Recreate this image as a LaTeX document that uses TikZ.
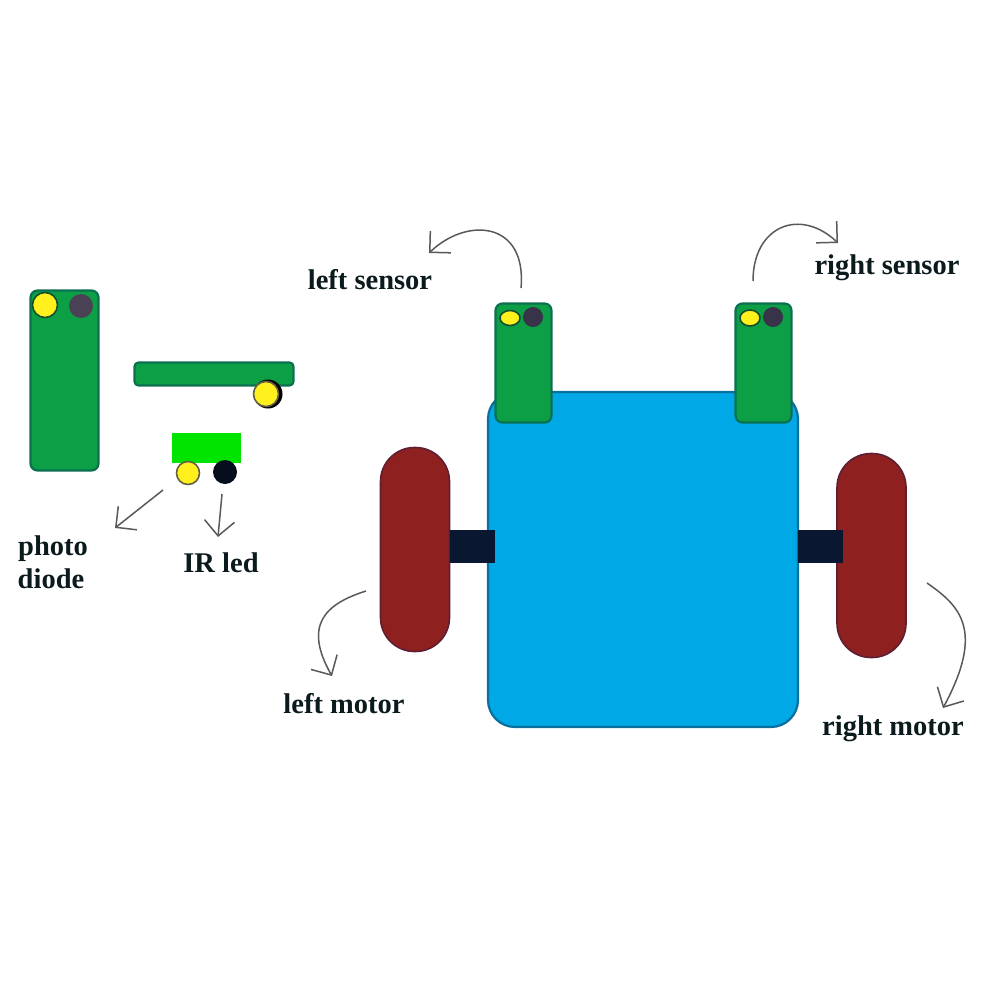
\documentclass[tikz,border=0pt]{standalone}
\usepackage{fontspec}
\setmainfont{Liberation Serif}
\usetikzlibrary{arrows.meta,shapes.geometric}

\definecolor{pcbgreen}{HTML}{0C9F45}
\definecolor{pcbedge}{HTML}{0A7050}
\definecolor{brightgreen}{HTML}{00E400}
\definecolor{chassisblue}{HTML}{00A8E6}
\definecolor{chassisedge}{HTML}{0B6F9E}
\definecolor{wheelred}{HTML}{8E2020}
\definecolor{wheeledge}{HTML}{5E1F33}
\definecolor{axlenavy}{HTML}{0A1730}
\definecolor{ledgray}{HTML}{4A4155}
\definecolor{diodeyellow}{HTML}{FFF01E}
\definecolor{diodeedge}{HTML}{14502A}
\definecolor{labelink}{HTML}{0B1A1C}

\tikzset{
  pcb/.style={draw=pcbedge,line width=2.2pt,fill=pcbgreen,rounded corners=7pt,inner sep=0pt},
  wheel/.style={draw=wheeledge,line width=1.6pt,fill=wheelred,rounded corners=34pt,inner sep=0pt,minimum width=69pt,minimum height=204pt},
  axle/.style={fill=axlenavy,inner sep=0pt,minimum width=45pt,minimum height=33pt},
  diode/.style={circle,draw=diodeedge,line width=1.6pt,fill=diodeyellow,inner sep=0pt},
  led/.style={circle,fill=ledgray,inner sep=0pt},
  caption/.style={font=\fontsize{28.5}{28.5}\selectfont\bfseries,text=labelink,inner sep=0pt,anchor=base},
  pointer/.style={draw=black!65,line width=1.5pt,-{Straight Barb[length=15pt,width=30pt,line width=1.5pt]}}
}

\begin{document}
\begin{tikzpicture}[x=1pt,y=-1pt]
        \useasboundingbox (0,0) rectangle (1000,1000);

        % Paso 1: Modulo sensor visto de frente
        \node[pcb,minimum width=68pt,minimum height=180pt] (frontPcb) at (64.5,380.5) {};
        \node[diode,minimum size=25pt] (frontDiode) at (45,305) {};
        \node[led,minimum size=24pt] (frontLed) at (81,306) {};

        % Paso 2: Modulo sensor visto de lado
        \node[pcb,rounded corners=4pt,minimum width=159pt,minimum height=23pt] (sidePcb) at (214,374) {};
        \node[circle,fill=black,inner sep=0pt,minimum size=29pt] (sideLed) at (268,394) {};
        \node[diode,draw=black!70!yellow,minimum size=25pt] (sideDiode) at (266,394) {};

        % Paso 3: Detalle de diodo y led
        \node[fill=brightgreen,inner sep=0pt,minimum width=69pt,minimum height=30pt] (detailPcb) at (206.5,448) {};
        \node[diode,draw=black!70!yellow,minimum size=23pt] (detailDiode) at (188,473) {};
        \node[circle,fill=axlenavy!60!black,inner sep=0pt,minimum size=24pt] (detailLed) at (225,472) {};

        % Paso 4: Chasis del robot
        \node[draw=chassisedge,line width=2.2pt,fill=chassisblue,rounded corners=27pt,inner sep=0pt,minimum width=310pt,minimum height=335pt] (chassis) at (643,559.5) {};

        % Paso 5: Ruedas y ejes
        \node[wheel] (leftWheel) at (415,549.5) {};
        \node[wheel] (rightWheel) at (871.5,555.5) {};
        \node[axle] (leftAxle) at (472.5,546.5) {};
        \node[axle] (rightAxle) at (820.5,546.5) {};

        % Paso 6: Sensores sobre el chasis
        \node[pcb,minimum width=56pt,minimum height=119pt] (leftPcb) at (523.5,363) {};
        \node[diode,ellipse,minimum width=20pt,minimum height=15pt] (leftDiode) at (510,318) {};
        \node[led,fill=ledgray!70!axlenavy,minimum size=20pt] (leftLed) at (533,317) {};
        \node[pcb,minimum width=56pt,minimum height=119pt] (rightPcb) at (763.5,363) {};
        \node[diode,ellipse,minimum width=20pt,minimum height=16pt] (rightDiode) at (750,318) {};
        \node[led,fill=ledgray!70!axlenavy,minimum size=20pt] (rightLed) at (773,317) {};

        % Paso 7: Etiquetas
        \node[caption] (photoLabel) at (53,555) {photo};
        \node[caption] (diodeLabel) at (51,588) {diode};
        \node[caption] (irLabel) at (221,572) {IR led};
        \node[caption] (leftSensorLabel) at (370,289) {left sensor};
        \node[caption] (rightSensorLabel) at (887,274) {right sensor};
        \node[caption] (leftMotorLabel) at (344,713) {left motor};
        \node[caption] (rightMotorLabel) at (893,735) {right motor};

        % Paso 8: Extremos de las flechas
        \coordinate (photoFrom) at (163,490);
        \coordinate (photoTo) at (115,528);
        \coordinate (irFrom) at (222,494);
        \coordinate (irTo) at (218,537);
        \coordinate (leftSensorFrom) at (521,288);
        \coordinate (leftSensorTo) at (429,253);
        \coordinate (rightSensorFrom) at (753,281);
        \coordinate (rightSensorTo) at (838,243);
        \coordinate (leftMotorFrom) at (366,591);
        \coordinate (leftMotorTo) at (332,676);
        \coordinate (rightMotorFrom) at (927,583);
        \coordinate (rightMotorTo) at (943,708);

        % Paso 9: Flechas
        \draw[pointer] (photoFrom) -- (photoTo);
        \draw[pointer] (irFrom) -- (irTo);
        \draw[pointer] (leftSensorFrom) .. controls (527,222) and (468,216) .. (leftSensorTo);
        \draw[pointer] (rightSensorFrom) .. controls (753,226) and (800,207) .. (rightSensorTo);
        \draw[pointer] (leftMotorFrom) .. controls (325,604) and (303,625) .. (leftMotorTo);
        \draw[pointer] (rightMotorFrom) .. controls (960,606) and (985,630) .. (rightMotorTo);
\end{tikzpicture}
\end{document}
